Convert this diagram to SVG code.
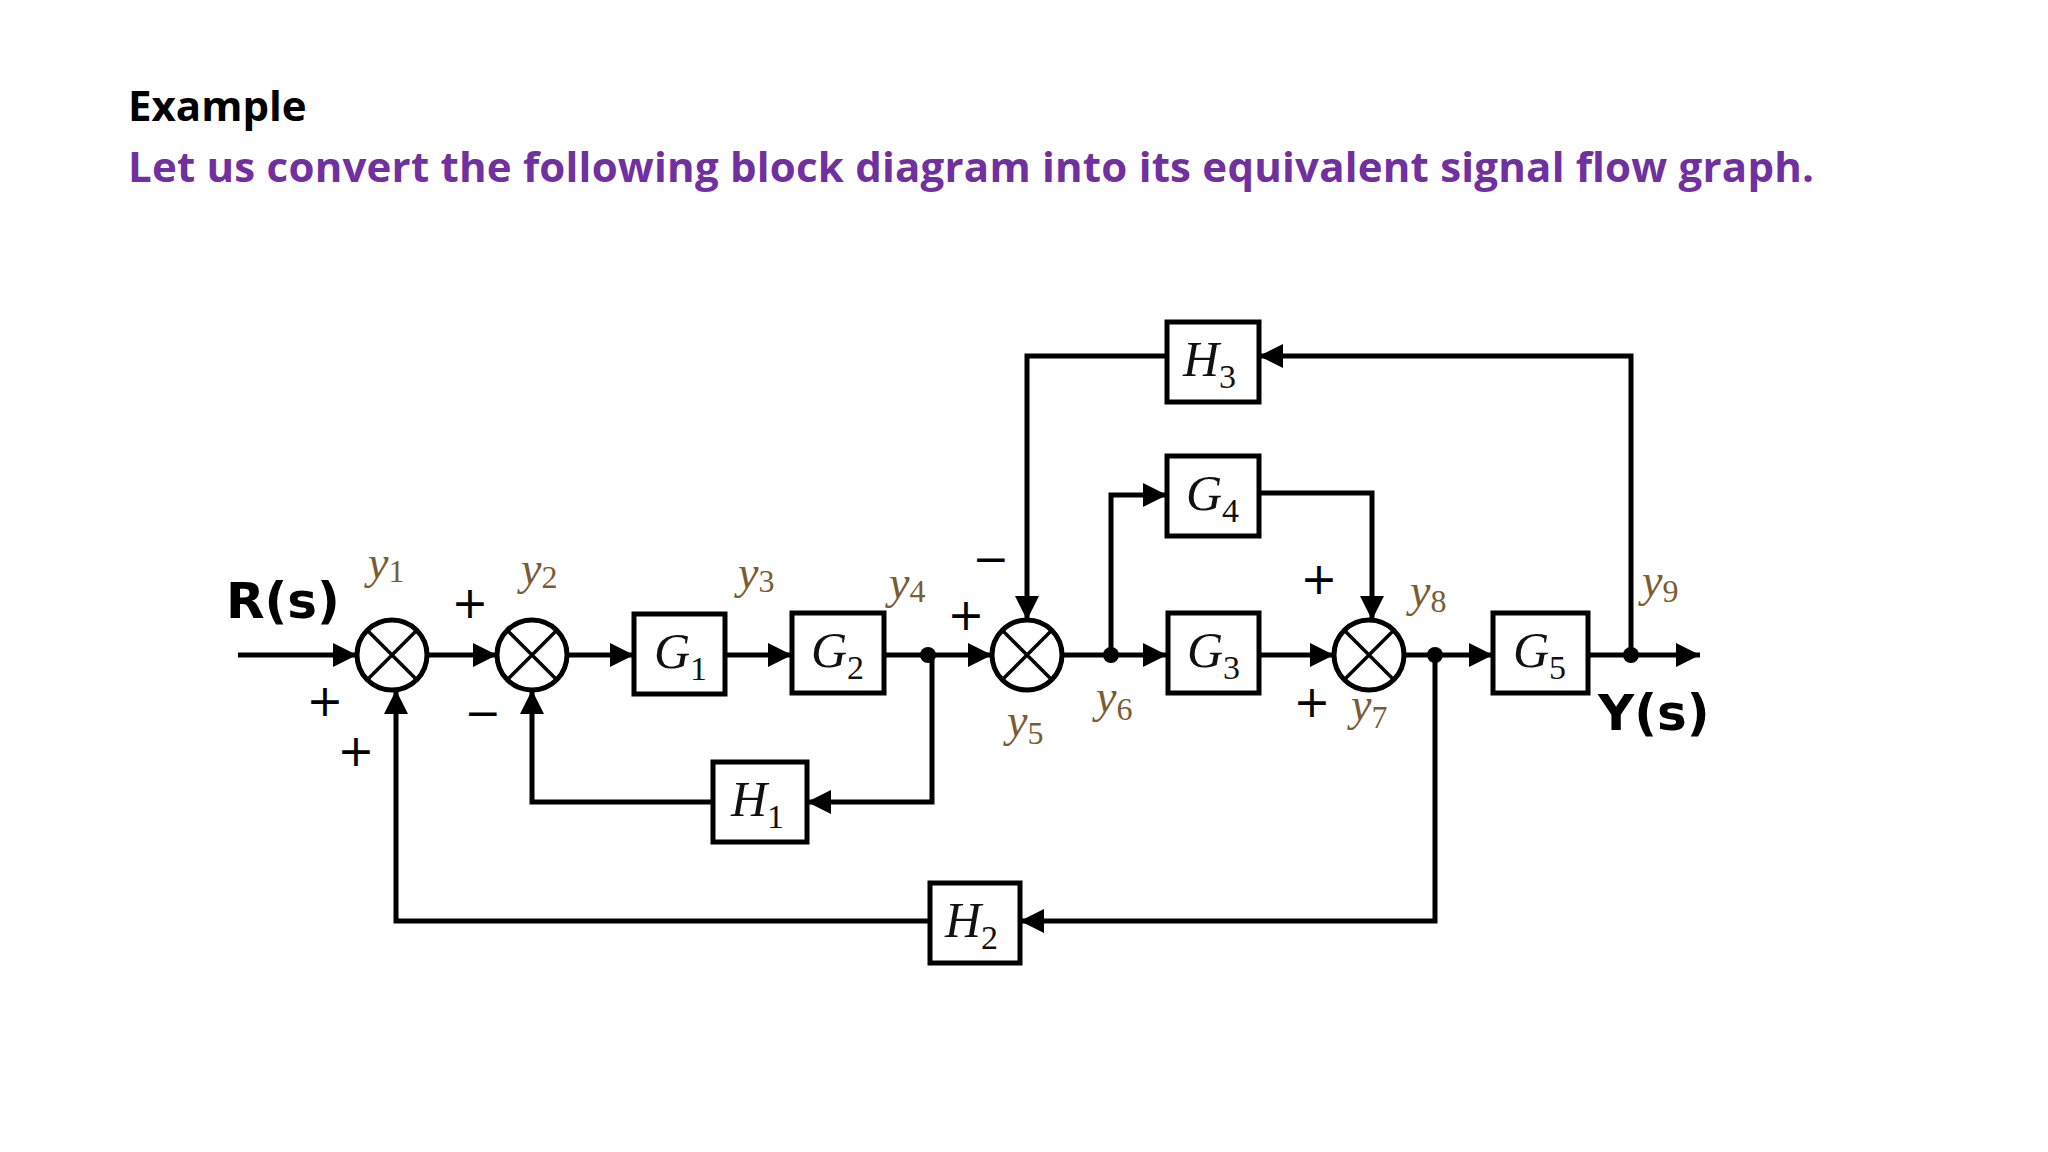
<svg xmlns="http://www.w3.org/2000/svg" width="2048" height="1152" viewBox="0 0 2048 1152">
<style>
.w{fill:none;stroke:#000;stroke-width:5}
.b{fill:#fff;stroke:#000;stroke-width:5}
.s{fill:none;stroke:#000;stroke-width:3.5}
.g{font-family:"Liberation Serif",serif;font-style:italic;font-size:50px;fill:#111}
.sub{font-size:34px;font-style:normal}
.y{font-family:"Liberation Serif",serif;font-style:italic;font-size:46px;fill:#7a5c34}
.ys{font-size:32px;font-style:normal}
.sg{font-family:"DejaVu Sans",sans-serif;font-size:44px;fill:#000}
.io{font-family:"DejaVu Sans",sans-serif;font-weight:bold;font-size:50px;fill:#000}
</style>
<defs>
<marker id="a" markerUnits="userSpaceOnUse" markerWidth="26" markerHeight="24" refX="24" refY="12" orient="auto"><path d="M0,0 L24,12 L0,24 Z" fill="#000"/></marker>
<g id="sum"><circle r="35" class="b"/><path d="M-25,-25 L25,25 M25,-25 L-25,25" class="s"/></g>
</defs>
<rect width="2048" height="1152" fill="#fff"/>
<text x="128" y="121" font-family="Open Sans, Liberation Sans, sans-serif" font-weight="bold" font-size="42" fill="#000">Example</text>
<text x="128" y="182" font-family="Open Sans, Liberation Sans, sans-serif" font-weight="bold" font-size="42" fill="#7030A0" textLength="1686">Let us convert the following block diagram into its equivalent signal flow graph.</text>

<g id="connectors">
<path class="w" d="M238,655 L357,655" marker-end="url(#a)"/>
<path class="w" d="M427,655 L497,655" marker-end="url(#a)"/>
<path class="w" d="M567,655 L634,655" marker-end="url(#a)"/>
<path class="w" d="M725,655 L792,655" marker-end="url(#a)"/>
<path class="w" d="M884,655 L992,655" marker-end="url(#a)"/>
<path class="w" d="M1062,655 L1167,655" marker-end="url(#a)"/>
<path class="w" d="M1259,655 L1334,655" marker-end="url(#a)"/>
<path class="w" d="M1404,655 L1493,655" marker-end="url(#a)"/>
<path class="w" d="M1588,655 L1700,655" marker-end="url(#a)"/>
<path class="w" d="M932,655 L932,802 L807,802" marker-end="url(#a)"/>
<path class="w" d="M713,802 L532,802 L532,690" marker-end="url(#a)"/>
<path class="w" d="M1435,655 L1435,921 L1020,921" marker-end="url(#a)"/>
<path class="w" d="M930,921 L396,921 L396,690" marker-end="url(#a)"/>
<path class="w" d="M1631,655 L1631,356 L1259,356" marker-end="url(#a)"/>
<path class="w" d="M1167,356 L1027,356 L1027,620" marker-end="url(#a)"/>
<path class="w" d="M1111,655 L1111,495 L1167,495" marker-end="url(#a)"/>
<path class="w" d="M1259,493 L1372,493 L1372,620" marker-end="url(#a)"/>
<circle cx="928" cy="655" r="8"/>
<circle cx="1111" cy="655" r="8"/>
<circle cx="1435" cy="655" r="8"/>
<circle cx="1631" cy="655" r="8"/>
</g>

<g id="sum1"><use href="#sum" x="392" y="655"/></g>
<g id="sum2"><use href="#sum" x="532" y="655"/></g>
<g id="sum3"><use href="#sum" x="1027" y="655"/></g>
<g id="sum4"><use href="#sum" x="1369" y="655"/></g>

<g id="G1"><rect class="b" x="634" y="614" width="91" height="80"/><text class="g" x="654" y="668">G<tspan class="sub" dy="12">1</tspan></text></g>
<g id="G2"><rect class="b" x="792" y="613" width="92" height="80"/><text class="g" x="811" y="667">G<tspan class="sub" dy="12">2</tspan></text></g>
<g id="G3"><rect class="b" x="1168" y="613" width="91" height="80"/><text class="g" x="1187" y="667">G<tspan class="sub" dy="12">3</tspan></text></g>
<g id="G4"><rect class="b" x="1167" y="456" width="92" height="80"/><text class="g" x="1186" y="510">G<tspan class="sub" dy="12">4</tspan></text></g>
<g id="G5"><rect class="b" x="1493" y="613" width="95" height="80"/><text class="g" x="1513" y="667">G<tspan class="sub" dy="12">5</tspan></text></g>
<g id="H1"><rect class="b" x="713" y="762" width="94" height="80"/><text class="g" x="731" y="816">H<tspan class="sub" dy="12">1</tspan></text></g>
<g id="H2"><rect class="b" x="930" y="883" width="90" height="80"/><text class="g" x="945" y="937">H<tspan class="sub" dy="12">2</tspan></text></g>
<g id="H3"><rect class="b" x="1167" y="322" width="92" height="80"/><text class="g" x="1183" y="376">H<tspan class="sub" dy="12">3</tspan></text></g>

<g id="labels">
<text class="io" x="226" y="618">R(s)</text>
<text class="io" x="1598" y="730">Y(s)</text>
<text class="y" x="368" y="578">y<tspan class="ys" dy="4">1</tspan></text>
<text class="y" x="521" y="584">y<tspan class="ys" dy="4">2</tspan></text>
<text class="y" x="738" y="588">y<tspan class="ys" dy="4">3</tspan></text>
<text class="y" x="889" y="598">y<tspan class="ys" dy="4">4</tspan></text>
<text class="y" x="1007" y="736">y<tspan class="ys" dy="8">5</tspan></text>
<text class="y" x="1096" y="712">y<tspan class="ys" dy="8">6</tspan></text>
<text class="y" x="1351" y="720">y<tspan class="ys" dy="8">7</tspan></text>
<text class="y" x="1410" y="606">y<tspan class="ys" dy="6">8</tspan></text>
<text class="y" x="1642" y="596">y<tspan class="ys" dy="6">9</tspan></text>
<text class="sg" x="325" y="716" text-anchor="middle">+</text>
<text class="sg" x="356" y="766" text-anchor="middle">+</text>
<text class="sg" x="470" y="618" text-anchor="middle">+</text>
<text class="sg" x="483" y="728" text-anchor="middle">−</text>
<text class="sg" x="966" y="630" text-anchor="middle">+</text>
<text class="sg" x="991" y="574" text-anchor="middle">−</text>
<text class="sg" x="1319" y="594" text-anchor="middle">+</text>
<text class="sg" x="1312" y="717" text-anchor="middle">+</text>
</g>
</svg>
